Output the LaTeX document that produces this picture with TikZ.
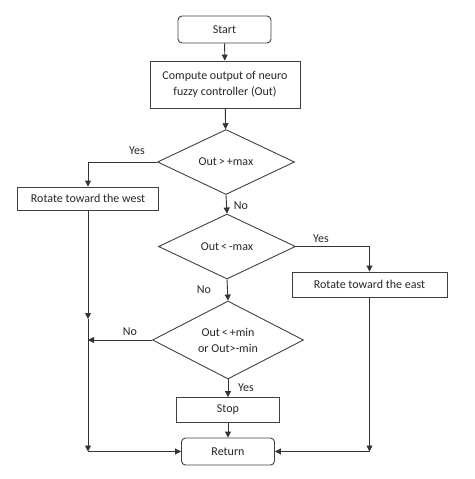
\documentclass[tikz,border=0pt]{standalone}
\usepackage{fontspec}
\setmainfont{Carlito}
\usetikzlibrary{shapes.geometric,arrows.meta}
\begin{document}
\begin{tikzpicture}[x=1pt,y=-1pt,
  every node/.style={font=\fontsize{12}{16}\selectfont, text=black!85},
  box/.style={draw=black!75, line width=0.9pt, rectangle, inner sep=0pt, align=center},
  rbox/.style={box, rounded corners=4pt},
  dec/.style={draw=black!75, line width=0.9pt, diamond, shape aspect=2, inner sep=0pt, align=center},
  conn/.style={draw=black!80, line width=0.9pt, -{Triangle[length=6pt,width=6pt]}},
  plain/.style={draw=black!80, line width=0.9pt},
  lbl/.style={inner sep=0pt}]
\useasboundingbox (0,0) rectangle (474,479);
\node[rbox, minimum width=93pt, minimum height=27pt] (start) at (224.5,29.5) {Start};
\node[box, minimum width=150pt, minimum height=47pt] (comp) at (225,84.5) {Compute output of neuro\\fuzzy controller (Out)};
\node[dec, minimum width=137pt, minimum height=65pt] (d1) at (226,162) {Out\,>\,+max};
\node[box, minimum width=141pt, minimum height=23pt] (west) at (88,198.5) {Rotate toward the west};
\node[dec, minimum width=137pt, minimum height=65pt] (d2) at (227,246.5) {Out\,<\,-max};
\node[box, minimum width=155pt, minimum height=25pt] (east) at (369.5,284.5) {Rotate toward the east};
\node[dec, minimum width=151pt, minimum height=78pt] (d3) at (228,340) {Out\,<\,+min\\or Out>-min};
\node[box, minimum width=103pt, minimum height=25pt] (stop) at (228,410) {Stop};
\node[rbox, minimum width=93pt, minimum height=27pt] (ret) at (228,451.5) {Return};
\coordinate (wA) at (88,319);
\coordinate (wM) at (88,340);
\coordinate (wB) at (88,451.5);
\coordinate (eB) at (369.5,451.5);
\draw[conn] (start) -- (comp);
\draw[conn] (comp) -- (d1);
\draw[conn] (d1.west) -| (west.north);
\node[lbl] (yes1) at (137,151) {Yes};
\draw[conn] (d1.south) -- (d2.north);
\node[lbl] (no1) at (241,206) {No};
\draw[conn] (d2.east) -| (east.north);
\node[lbl] (yes2) at (321,239) {Yes};
\draw[conn] (d2.south) -- (d3.north);
\node[lbl] (no2) at (204,290) {No};
\draw[conn] (d3.south) -- (stop.north);
\node[lbl] (yes3) at (246,388) {Yes};
\draw[conn] (stop) -- (ret);
\draw[conn] (d3.west) -- (wM);
\node[lbl] (no3) at (130,332) {No};
\draw[conn] (west.south) -- (wA);
\draw[conn] (wA) -- (wB);
\draw[conn] (wB) -- (ret.west);
\draw[conn] (east.south) -- (eB);
\draw[conn] (eB) -- (ret.east);
\end{tikzpicture}
\end{document}
